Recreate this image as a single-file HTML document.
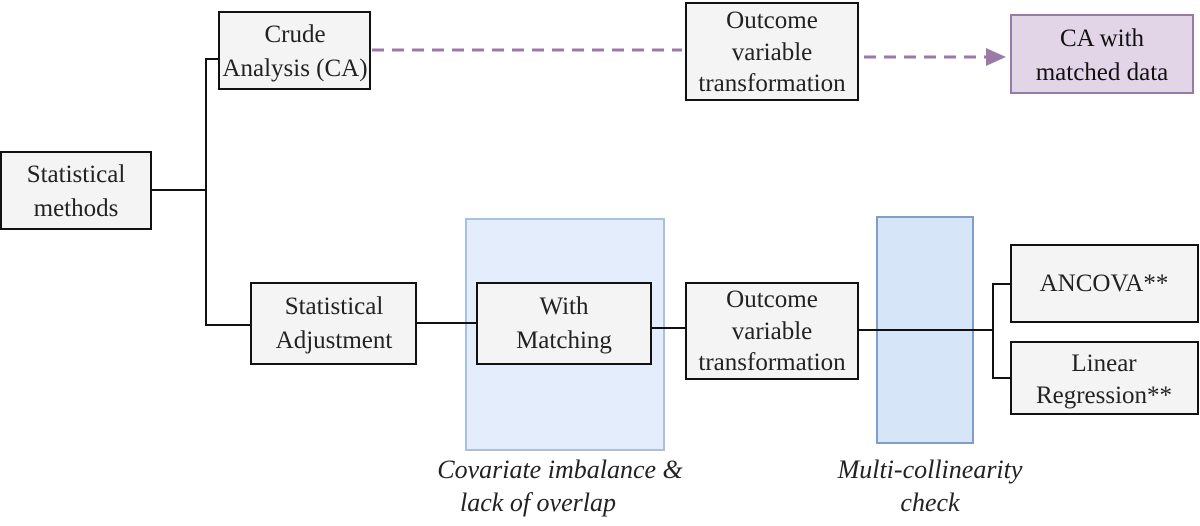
<!DOCTYPE html>
<html><head><style>body{margin:0;background:#fff}</style></head><body>
<svg width="1200" height="521" xmlns="http://www.w3.org/2000/svg" font-family="Liberation Serif, serif" font-size="25" fill="#222">
<rect x="466" y="219" width="198" height="231" fill="#e3edfb" stroke="#a9c1e0" stroke-width="2"/>
<rect x="877" y="217" width="96" height="226" fill="#d6e5f7" stroke="#7f9fc7" stroke-width="2"/>
<g stroke="#111" stroke-width="2" fill="none">
<path d="M219 59H206V325H251M151 190H206"/>
<path d="M416 323H477M651 328H686M858 330H993M1011 284H993V378H1011"/>
</g>
<g stroke="#9b7aa8" stroke-width="3" stroke-dasharray="12,8" fill="none">
<path d="M372 50H682M864 57H990"/>
</g>
<polygon points="1006,57 986,48 986,66" fill="#9b7aa8"/>
<g fill="#f4f4f4" stroke="#111" stroke-width="2">
<rect x="1" y="152" width="150" height="77"/>
<rect x="219" y="12" width="151" height="77"/>
<rect x="686" y="3" width="172" height="97"/>
<rect x="251" y="283" width="165" height="81"/>
<rect x="477" y="283" width="174" height="81"/>
<rect x="686" y="283" width="172" height="96"/>
<rect x="1011" y="245" width="187" height="77"/>
<rect x="1011" y="342" width="187" height="72"/>
</g>
<rect x="1011" y="15" width="182" height="78" fill="#e2d5e8" stroke="#9b7aa8" stroke-width="2"/>
<g text-anchor="middle">
<text x="76" y="182">Statistical</text><text x="76" y="216">methods</text>
<text x="295" y="42">Crude</text><text x="295" y="76">Analysis (CA)</text>
<text x="772" y="28">Outcome</text><text x="772" y="60">variable</text><text x="772" y="91">transformation</text>
<text x="1102" y="46" fill="#111">CA with</text><text x="1102" y="80" fill="#111">matched data</text>
<text x="334" y="314">Statistical</text><text x="334" y="348">Adjustment</text>
<text x="564" y="314">With</text><text x="564" y="348">Matching</text>
<text x="772" y="307">Outcome</text><text x="772" y="339">variable</text><text x="772" y="370">transformation</text>
<text x="1104" y="291">ANCOVA**</text>
<text x="1104" y="371">Linear</text><text x="1104" y="403">Regression**</text>
<g font-style="italic" font-size="26">
<text x="560" y="478">Covariate imbalance &amp;</text><text x="538" y="511">lack of overlap</text>
<text x="930" y="478">Multi-collinearity</text><text x="930" y="511">check</text>
</g>
</g>
</svg>
</body></html>
